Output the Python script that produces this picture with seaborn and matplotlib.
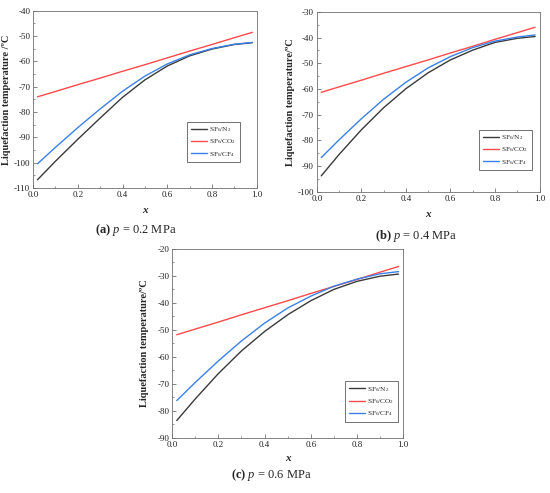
import numpy as np
import pandas as pd
import matplotlib
matplotlib.use("Agg")
import matplotlib.pyplot as plt
from matplotlib.ticker import MultipleLocator, FormatStrFormatter
import seaborn as sns

# ---- data ----
x_vals = [0.02, 0.1, 0.2, 0.3, 0.4, 0.5, 0.6, 0.7, 0.8, 0.9, 0.98]

a_n2  = [-106.8, -99.5, -90.8, -82.4, -74.2, -67.3, -61.8, -57.8, -55.1, -53.3, -52.6]
a_co2 = [-74.0, -71.9, -69.2, -66.6, -63.9, -61.3, -58.6, -55.9, -53.3, -50.6, -48.5]
a_cf4 = [-100.5, -94.0, -86.2, -78.8, -71.8, -65.8, -61.0, -57.4, -54.9, -53.2, -52.5]

b_n2  = [-93.8, -85.5, -75.9, -67.3, -59.9, -53.7, -48.7, -44.9, -41.9, -40.3, -39.6]
b_co2 = [-61.3, -59.2, -56.6, -53.9, -51.3, -48.7, -46.0, -43.4, -40.7, -38.1, -36.0]
b_cf4 = [-86.7, -79.8, -71.6, -64.0, -57.4, -51.8, -47.4, -43.9, -41.4, -39.8, -39.0]

c_n2  = [-83.6, -75.6, -66.2, -57.8, -50.6, -44.4, -39.2, -35.0, -32.0, -30.1, -29.3]
c_co2 = [-51.8, -49.7, -47.1, -44.4, -41.8, -39.2, -36.5, -33.9, -31.3, -28.6, -26.5]
c_cf4 = [-76.2, -69.5, -61.5, -54.1, -47.5, -41.9, -37.5, -33.8, -31.2, -29.2, -28.4]

series_labels = [r"SF$_6$/N$_2$", r"SF$_6$/CO$_2$", r"SF$_6$/CF$_4$"]
panel_captions = [r"$\mathbf{(a)}$ $\mathit{p}$ = 0.2 MPa",
                  r"$\mathbf{(b)}$ $\mathit{p}$ = 0.4 MPa",
                  r"$\mathbf{(c)}$ $\mathit{p}$ = 0.6 MPa"]
ylabels = ["Liquefaction temperature /\u00baC",
           "Liquefaction temperature/\u00baC",
           "Liquefaction temperature/\u00baC"]
ylims = [(-110, -40), (-100, -30), (-90, -20)]

panels = [(a_n2, a_co2, a_cf4), (b_n2, b_co2, b_cf4), (c_n2, c_co2, c_cf4)]

# ---- style ----
sns.set_theme(style="ticks")
plt.rcParams["font.family"] = ["Liberation Serif", "DejaVu Serif"]
plt.rcParams["mathtext.fontset"] = "custom"
plt.rcParams["mathtext.rm"] = "Liberation Serif"
plt.rcParams["mathtext.it"] = "Liberation Serif:italic"
plt.rcParams["mathtext.bf"] = "Liberation Serif:bold"

palette = {series_labels[0]: "#3a3a3a",
           series_labels[1]: "#ff4a4a",
           series_labels[2]: "#3a80e8"}

fig = plt.figure(figsize=(5.5, 4.93), dpi=100)
axes_rects = [
    [0.060, 0.619, 0.407, 0.359],
    [0.576, 0.611, 0.405, 0.365],
    [0.313, 0.112, 0.420, 0.383],
]
legend_boxes = [
    (0.69, 0.145),
    (0.73, 0.12),
    (0.75, 0.085),
]
caption_pos = [(0.246, 0.533), (0.756, 0.521), (0.493, 0.036)]
xlabel_y = [-0.10, -0.10, -0.085]

spine_col = "#707070"

for i, (rect, vals) in enumerate(zip(axes_rects, panels)):
    ax = fig.add_axes(rect)
    rows = []
    for lab, ys in zip(series_labels, vals):
        for xv, yv in zip(x_vals, ys):
            rows.append({"x": xv, "T": yv, "mix": lab})
    df = pd.DataFrame(rows)
    sns.lineplot(data=df, x="x", y="T", hue="mix", hue_order=series_labels,
                 palette=palette, ax=ax, linewidth=1.0, legend=True)
    ax.set_xlim(0.0, 1.0)
    ax.set_ylim(*ylims[i])
    ax.xaxis.set_major_locator(MultipleLocator(0.2))
    ax.xaxis.set_minor_locator(MultipleLocator(0.1))
    ax.yaxis.set_major_locator(MultipleLocator(10))
    ax.yaxis.set_minor_locator(MultipleLocator(5))
    ax.xaxis.set_major_formatter(FormatStrFormatter("%.1f"))
    ax.yaxis.set_major_formatter(FormatStrFormatter("%d"))
    ax.tick_params(which="major", direction="in", length=3, width=0.6,
                   colors=spine_col, labelcolor="#222222", labelsize=6.5, pad=2)
    ax.tick_params(which="minor", direction="in", length=1.6, width=0.5,
                   colors=spine_col)
    for s in ax.spines.values():
        s.set_color(spine_col)
        s.set_linewidth(0.6)
    ax.set_xlabel("x", fontsize=8, fontweight="bold", fontstyle="italic",
                  labelpad=2)
    ax.xaxis.set_label_coords(0.5, xlabel_y[i])
    ax.set_ylabel(ylabels[i], fontsize=7.5, fontweight="bold", labelpad=2)
    ax.yaxis.set_label_coords(-0.1, 0.5)
    handles, labels = ax.get_legend_handles_labels()
    leg = ax.legend(handles, labels, loc="lower left",
                    bbox_to_anchor=legend_boxes[i], fontsize=5.2,
                    frameon=True, fancybox=False, handlelength=2.2,
                    handletextpad=0.3, borderpad=0.5, labelspacing=0.45,
                    borderaxespad=0)
    leg.get_frame().set_edgecolor("#333333")
    leg.get_frame().set_linewidth(0.6)
    leg.get_frame().set_facecolor("white")
    for lh in leg.get_lines():
        lh.set_linewidth(1.0)
    fig.text(caption_pos[i][0], caption_pos[i][1], panel_captions[i],
             ha="center", va="center", fontsize=9)

fig.savefig("out.png", dpi=100, facecolor="white")
